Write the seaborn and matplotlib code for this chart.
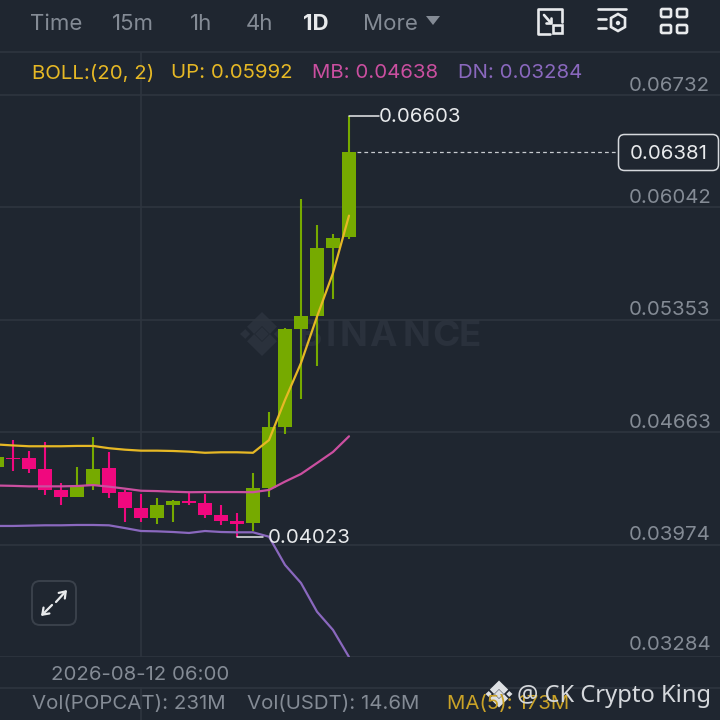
import matplotlib
matplotlib.use("Agg")
import matplotlib.pyplot as plt
from matplotlib.patches import FancyBboxPatch, Polygon, Rectangle, Circle
import numpy as np
import pandas as pd
import seaborn as sns

# candles, oldest first
opens = [.04452, .04508, .04505, .04436, .04309, .04267, .04339, .04442, .04294, .04200, .04135, .04215,
         .04241, .04231, .04155, .04118, .04108, .04319, .04697, .05295, .05378, .05791, .05861]
closes = [.04513, .04496, .04436, .04309, .04267, .04333, .04437, .04292, .04200, .04135, .04217, .04241,
          .04229, .04155, .04118, .04102, .04319, .04697, .05295, .05378, .05791, .05857, .06381]
highs = [.04554, .04615, .04550, .04603, .04352, .04452, .04634, .04542, .04309, .04284, .04260, .04247,
         .04292, .04284, .04217, .04168, .04413, .04787, .05303, .06094, .05933, .05877, .06603]
lows = [.04444, .04425, .04411, .04278, .04217, .04266, .04309, .04261, .04114, .04114, .04100, .04112,
        .04218, .04137, .04094, .04023, .04059, .04267, .04652, .04867, .05069, .05482, .05847]

# bollinger bands
boll_up = [.04588, .04582, .04577, .04577, .04577, .04579, .04579, .04565, .04556, .04550, .04550, .04548,
           .04544, .04537, .04540, .04540, .04537, .04615, .04861, .05088, .05372, .05640, .05992]
boll_mb = [.04336, .04334, .04331, .04331, .04331, .04333, .04339, .04329, .04317, .04304, .04302, .04298,
           .04295, .04296, .04296, .04296, .04295, .04309, .04360, .04407, .04474, .04542, .04638]
boll_dn = [.04088, .04088, .04090, .04092, .04092, .04094, .04094, .04092, .04075, .04057, .04055, .04051,
           .04045, .04057, .04051, .04049, .04049, .04022, .03849, .03738, .03562, .03450, .03284]

price_ticks = [.06732, .06042, .05353, .04663, .03974, .03284]
price_labels = ["0.06732", "0.06042", "0.05353", "0.04663", "0.03974", "0.03284"]
last_price = .06381
top_price = .06603
bottom_price = .04023

BG = "#1F2630"
GRID = "#2E353F"
GREY = "#848B95"
WHITE = "#E8EAEC"
GREEN = "#76AA00"
RED = "#F0087E"
YELLOW = "#E6B825"
PINK = "#CB4FA0"
PURPLE = "#8A68BE"
FS = 14.7

sns.set_theme(style="dark")
plt.rcParams["font.family"] = ["Inter", "DejaVu Sans"]

fig = plt.figure(figsize=(7.2, 7.2), dpi=100, facecolor=BG)


def pixel_axes(z):
    a = fig.add_axes([0, 0, 1, 1], zorder=z)
    a.set_xlim(0, 720)
    a.set_ylim(720, 0)
    a.axis("off")
    a.patch.set_visible(False)
    return a


bg = pixel_axes(0)  # behind the chart
fg = pixel_axes(2)  # on top of the chart

# chart layer
XLIM = (3 / 16, 723 / 16)
YLIM = (.03284, .06996)
ax = fig.add_axes([0, 63 / 720, 1, 605 / 720], zorder=1)
ax.patch.set_visible(False)
for s in ax.spines.values():
    s.set_visible(False)
ax.set_yticks(price_ticks)
ax.set_xticks([9])
ax.tick_params(length=0, labelleft=False, labelbottom=False)
ax.grid(True, color=GRID, lw=1.2)
ax.set_axisbelow(True)

idx = np.arange(len(opens))
colors = [GREEN if c >= o else RED for o, c in zip(opens, closes)]
ax.vlines(idx, lows, highs, colors=colors, lw=1.5, zorder=2)
ax.bar(idx, np.abs(np.array(closes) - np.array(opens)), bottom=np.minimum(opens, closes),
       width=0.875, color=colors, lw=0, zorder=3)

bands = pd.DataFrame({"i": idx, "UP": boll_up, "MB": boll_mb, "DN": boll_dn})
sns.lineplot(data=bands, x="i", y="UP", color=YELLOW, lw=1.6, ax=ax, zorder=4)
sns.lineplot(data=bands, x="i", y="MB", color=PINK, lw=1.6, ax=ax, zorder=4)
sns.lineplot(data=bands, x="i", y="DN", color=PURPLE, lw=1.6, ax=ax, zorder=4)
ax.set_xlabel("")
ax.set_ylabel("")
ax.set_xlim(*XLIM)
ax.set_ylim(*YLIM)

# price labels above the grid lines
for p, lab in zip(price_ticks, price_labels):
    dy = 11.5 if lab == "0.03284" else 9.5
    ax.annotate(lab, xy=(1, p), xycoords=ax.get_yaxis_transform(), xytext=(-91 * .72, dy * .72),
                textcoords="offset points", color=GREY, fontsize=FS, va="center", ha="left", zorder=6)

# high / low callouts
ax.plot([22, 23.9], [top_price, top_price], color=WHITE, lw=1.1, zorder=5)
ax.annotate("0.06603", xy=(23.85, top_price), xytext=(0, -1), textcoords="offset points",
            color=WHITE, fontsize=FS, va="center", ha="left", zorder=6)
ax.plot([15, 16.6], [bottom_price, bottom_price], color=WHITE, lw=1.1, zorder=5)
ax.annotate("0.04023", xy=(16.9, bottom_price), xytext=(0, -1), textcoords="offset points",
            color=WHITE, fontsize=FS, va="center", ha="left", zorder=6)
ax.plot([22.5, 38.8], [last_price, last_price], color="#C8CCD0", lw=0.9, ls=(0, (3, 2.5)), zorder=5)

# header
for x, lab, col, w in [(30, "Time", GREY, "normal"), (112, "15m", GREY, "normal"), (190, "1h", GREY, "normal"),
                       (246, "4h", GREY, "normal"), (303, "1D", WHITE, "bold"), (363, "More", GREY, "normal")]:
    fg.text(x, 23.5, lab, color=col, fontsize=16, fontweight=w, va="center", ha="left")
bg.add_patch(Polygon([[426, 16], [440, 16], [433, 25]], closed=True, color=GREY, lw=0))
bg.plot([0, 720], [52, 52], color=GRID, lw=1.2)

for x, lab, col in [(32, "BOLL:(20, 2)", YELLOW), (171, "UP: 0.05992", YELLOW),
                    (312, "MB: 0.04638", PINK), (458, "DN: 0.03284", PURPLE)]:
    fg.text(x, 73.5, lab, color=col, fontsize=FS, va="center", ha="left")

# toolbar icons
ic = dict(color=WHITE, lw=1.9, solid_capstyle="round", solid_joinstyle="round")
bg.plot([550, 538, 538, 562, 562], [34, 34, 9, 9, 22], **ic)
bg.add_patch(Rectangle((553, 25), 9, 8, fill=False, ec=WHITE, lw=1.9))
bg.plot([544, 551], [15, 23], **ic)
bg.plot([546, 551, 551], [23, 23, 18], **ic)
bg.plot([598, 626], [9, 9], **ic)
bg.plot([598, 606], [19, 19], **ic)
bg.plot([598, 606], [28, 28], **ic)
bg.add_patch(Polygon([[618, 14], [625, 18], [625, 27], [618, 31], [611, 27], [611, 18]], closed=True,
                     fill=False, ec=WHITE, lw=1.9))
bg.add_patch(Circle((618, 23), 2.2, color=WHITE, lw=0))
for x0 in (661, 677):
    for y0 in (9, 25):
        bg.add_patch(FancyBboxPatch((x0, y0), 10, 8, boxstyle="round,pad=0,rounding_size=1.5",
                                    fill=False, ec=WHITE, lw=1.9))

# price tag
bg.add_patch(FancyBboxPatch((618.5, 134.5), 100, 36, boxstyle="round,pad=0,rounding_size=6",
                            fc=BG, ec="#D5D8DC", lw=1.1))
fg.text(668.5, 154, "0.06381", color=WHITE, fontsize=FS, va="center", ha="center")

# binance logo outline, unit size around its centre
logo = [[[0, -1], [.68, -.33], [.36, 0], [0, -.36], [-.36, 0], [-.68, -.33]],
        [[0, 1], [.68, .33], [.36, 0], [0, .36], [-.36, 0], [-.68, .33]],
        [[0, -.32], [.32, 0], [0, .32], [-.32, 0]],
        [[-1, 0], [-.76, -.22], [-.54, 0], [-.76, .22]],
        [[1, 0], [.76, -.22], [.54, 0], [.76, .22]]]


def draw_logo(a, cx, cy, r, col):
    for pts in logo:
        a.add_patch(Polygon([[cx + r * px, cy + r * py] for px, py in pts], closed=True, color=col, lw=0))


# watermark
draw_logo(bg, 262, 334, 22, "#2A313C")
for x, ch in zip([298, 326, 340, 369, 403, 432, 459], "BINANCE"):
    bg.text(x, 336, ch, color="#2A313C", fontsize=26.5, fontweight="bold", va="center", ha="left")

# expand button
bg.add_patch(FancyBboxPatch((32, 581), 44, 44, boxstyle="round,pad=0,rounding_size=8",
                            fill=False, ec="#3A414B", lw=1.4))
ar = dict(arrowstyle="->,head_width=0.25,head_length=0.35", color=WHITE, lw=1.6, shrinkA=0, shrinkB=0)
bg.annotate("", xy=(67, 590), xytext=(56, 602), arrowprops=ar)
bg.annotate("", xy=(41, 616), xytext=(52, 605), arrowprops=ar)

# bottom strip
bg.plot([141, 141], [688, 720], color=GRID, lw=1.2)
bg.plot([0, 720], [688, 688], color=GRID, lw=1.2)
fg.text(51, 675.5, "2026-08-12 06:00", color=GREY, fontsize=FS, va="center", ha="left")
fg.text(32, 704.5, "Vol(POPCAT): 231M", color=GREY, fontsize=FS, va="center", ha="left")
fg.text(247, 704.5, "Vol(USDT): 14.6M", color=GREY, fontsize=FS, va="center", ha="left")
fg.text(447, 704.5, "MA(5): 173M", color="#C9A227", fontsize=FS, va="center", ha="left")

# author stamp
draw_logo(fg, 499, 694, 13.5, "#DDE0E3")
fg.text(517, 695.5, "@ CK Crypto King", color="#D5D8DC", fontsize=17.1, family="Noto Sans", va="center", ha="left")

fig.savefig("out.png", dpi=100, facecolor=BG)
